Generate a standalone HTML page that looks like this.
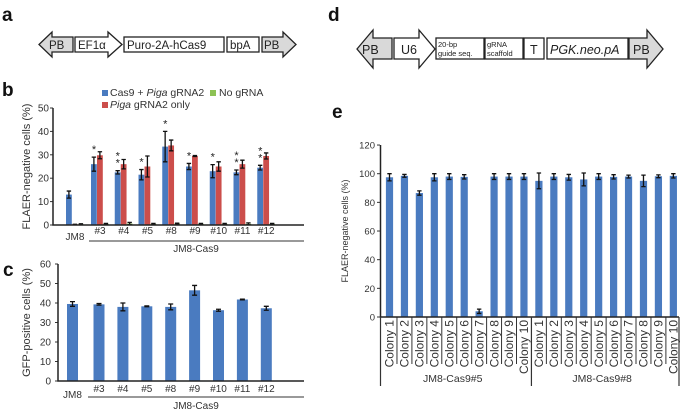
<!DOCTYPE html>
<html><head><meta charset="utf-8"><style>
body{margin:0;background:#fff;}
svg{display:block;font-family:"Liberation Sans",sans-serif;}
</style></head><body>
<svg id="fig" width="685" height="412" viewBox="0 0 685 412" xmlns="http://www.w3.org/2000/svg">
<g font-weight="bold" font-size="19" fill="#111">
<text x="2" y="21">a</text>
<text x="328" y="21">d</text>
<text x="2" y="96">b</text>
<text x="3" y="276">c</text>
<text x="332" y="118">e</text>
</g>
<g stroke="#222" stroke-width="1.3" font-size="11.5">
<polygon points="39,44.5 52,32 52,37 73,37 73,52 52,52 52,57" fill="#d9d9d9"/>
<polygon points="75,37 108,37 108,32 122,44.5 108,57 108,52 75,52" fill="#fff"/>
<rect x="124" y="37" width="100" height="15" fill="#fff"/>
<rect x="227" y="37" width="32" height="15" fill="#fff"/>
<polygon points="262,37 283,37 283,32 296,44.5 283,57 283,52 262,52" fill="#d9d9d9"/>
<g stroke="none" fill="#222">
<text x="49" y="49">PB</text><text x="78" y="49">EF1α</text><text x="127" y="49">Puro-2A-hCas9</text><text x="230" y="49">bpA</text><text x="264" y="49">PB</text>
</g></g>
<g stroke="#222" stroke-width="1.3">
<polygon points="357,49 373,30 373,38 392,38 392,59 373,59 373,68" fill="#d9d9d9"/>
<polygon points="394,38 419,38 419,30 435,49 419,68 419,59 394,59" fill="#fff"/>
<rect x="436" y="38" width="48" height="21" fill="#fff"/>
<rect x="485" y="38" width="38" height="21" fill="#fff"/>
<rect x="524" y="38" width="20" height="21" fill="#fff"/>
<rect x="547" y="38" width="81" height="21" fill="#fff"/>
<polygon points="629,38 647,38 647,30 663,49 647,68 647,59 629,59" fill="#d9d9d9"/>
<g stroke="none" fill="#222">
<text x="362" y="54" font-size="12.5">PB</text><text x="401" y="54" font-size="12.5">U6</text>
<text x="438" y="47" font-size="7.5">20-bp</text><text x="438" y="56" font-size="7.5">guide seq.</text>
<text x="487" y="47" font-size="7.5">gRNA</text><text x="487" y="56" font-size="7.5">scaffold</text>
<text x="530" y="54" font-size="12.5">T</text><text x="550" y="54" font-size="12.5" font-style="italic">PGK.neo.pA</text>
<text x="633" y="54" font-size="12.5">PB</text>
</g></g>
<g id="charts"></g>
</svg>
<script>
// ---- panel b data ----
const bCategories = ["JM8","#3","#4","#5","#8","#9","#10","#11","#12"];
const bCas9 = [13, 26, 22.5, 21.5, 33.5, 25, 23, 22.5, 24.5];
const bCas9Err = [1.5, 3, 0.7, 2.2, 6.5, 1.3, 2.8, 1, 1];
const bGrna = [0.3, 29.8, 26, 25, 34, 29.5, 25, 26, 29.5];
const bGrnaErr = [0, 1.5, 2, 4.5, 2.3, 0.2, 2, 1.7, 1.3];
const bNone = [0.3, 0.5, 0.6, 0.5, 0.6, 0.5, 0.5, 0.5, 0.5];
const bNoneErr = [0.2, 0.2, 0.5, 0.2, 0.2, 0.2, 0.2, 0.4, 0.2];
const bStars = [0, 1, 2, 1, 1, 1, 1, 2, 2];
const bTicks = [0, 10, 20, 30, 40, 50];
// ---- panel c data ----
const cCategories = ["JM8","#3","#4","#5","#8","#9","#10","#11","#12"];
const cGfp = [39.5, 39.3, 38, 38.3, 38, 46.5, 36.3, 41.8, 37.3];
const cGfpErr = [1.2, 0.4, 2, 0.2, 1.5, 2.5, 0.5, 0.2, 1];
const cTicks = [0, 10, 20, 30, 40, 50, 60];
// ---- panel e data ----
const eColonies = ["Colony 1","Colony 2","Colony 3","Colony 4","Colony 5","Colony 6","Colony 7","Colony 8","Colony 9","Colony 10","Colony 1","Colony 2","Colony 3","Colony 4","Colony 5","Colony 6","Colony 7","Colony 8","Colony 9","Colony 10"];
const eValues = [97.5, 98.5, 86.5, 97.5, 98, 97.8, 4, 98, 98, 98, 95, 98, 97.5, 96, 98, 97.8, 98, 95, 98.2, 98.5];
const eErr = [2.5, 1, 1.5, 2.5, 2, 1.5, 1.5, 2, 2, 2, 5.5, 2, 2, 4.5, 2, 1.5, 1, 4, 1, 1.5];
const eGroups = ["JM8-Cas9#5","JM8-Cas9#8"];
const eTicks = [0, 20, 40, 60, 80, 100, 120];

const NS="http://www.w3.org/2000/svg";
const root=document.getElementById('charts');
function mk(tag,attrs,parent,txt){const e=document.createElementNS(NS,tag);for(const k in attrs)e.setAttribute(k,attrs[k]);if(txt!==undefined)e.textContent=txt;(parent||root).appendChild(e);return e;}
const BLUE="#4a7bc0",RED="#cc4e4b",GREEN="#8dc255";
function errbar(g,x,y0,y1,cap){
  const e=mk('path',{d:`M${x},${y0}V${y1}M${x-cap},${y0}H${x+cap}M${x-cap},${y1}H${x+cap}`,stroke:'#111','stroke-width':1.3,fill:'none'},g);
  
  
}

// ===== Panel b =====
const bY=v=>225-v*2.34;
const bX=i=>i===0?75:100+(i-1)*23.75;
const gb=mk('g',{});


bTicks.forEach(t=>{
  const tl=mk('text',{x:49,y:bY(t)+3.5,'font-size':10,'text-anchor':'end',fill:'#333'},gb,String(t));
  
  
  mk('line',{x1:50,x2:53,y1:bY(t),y2:bY(t),stroke:'#333','stroke-width':1},gb);
});
bCategories.forEach((c,i)=>{
  const x=bX(i);
  const series=[[bCas9,bCas9Err,BLUE,-9,'bar-cas9'],[bGrna,bGrnaErr,RED,-3,'bar-grna-only'],[bNone,bNoneErr,GREEN,3,'bar-no-grna']];
  series.forEach(([vals,errs,col,off,nm])=>{
    const v=vals[i];
    const r=mk('rect',{x:x+off,y:bY(v),width:5.8,height:bY(0)-bY(v),fill:col},gb);
    
    
    errbar(gb,x+off+2.9,bY(v-errs[i]),bY(v+errs[i]),2.2);
  });
  for(let s=0;s<bStars[i];s++){
    const st=mk('text',{x:x-6,y:bY(bCas9[i]+bCas9Err[i])-4-s*7,'font-size':11,'text-anchor':'middle',fill:'#222'},gb,'*');
    
    
  }
  const lb=mk('text',{x:x,y:i===0?240:234,'font-size':10,'text-anchor':'middle',fill:'#333'},gb,c);
  
  
});
mk('path',{d:`M53,${bY(50)}V${bY(0)}H304`,stroke:'#222','stroke-width':1.5,fill:'none'},gb);
mk('line',{x1:89,x2:304,y1:241,y2:241,stroke:'#333','stroke-width':1},gb);
mk('text',{x:196,y:252,'font-size':10,'text-anchor':'middle',fill:'#333'},gb,'JM8-Cas9');
const by=mk('text',{x:0,y:0,'font-size':11,'text-anchor':'middle',fill:'#333',transform:`translate(30,${bY(25)}) rotate(-90)`},gb,'FLAER-negative cells (%)');


const lg=mk('g',{'font-size':10.5,fill:'#333'},gb);


mk('rect',{x:102,y:90,width:6,height:6,fill:BLUE},lg);
const t1=mk('text',{x:110,y:96},lg);
mk('tspan',{},t1,'Cas9 + ');mk('tspan',{'font-style':'italic'},t1,'Piga');mk('tspan',{},t1,' gRNA2');
mk('rect',{x:210,y:90,width:6,height:6,fill:GREEN},lg);
mk('text',{x:219,y:96},lg,'No gRNA');
mk('rect',{x:102,y:102,width:6,height:6,fill:RED},lg);
const t2=mk('text',{x:110,y:108},lg);
mk('tspan',{'font-style':'italic'},t2,'Piga');mk('tspan',{},t2,' gRNA2 only');

// ===== Panel c =====
const cY=v=>381-v*1.95;
const cX=i=>i===0?72.5:99+(i-1)*23.9;
const gc=mk('g',{});


cTicks.forEach(t=>{
  const tl=mk('text',{x:51,y:cY(t)+3.5,'font-size':10,'text-anchor':'end',fill:'#333'},gc,String(t));
  
  
  mk('line',{x1:55,x2:58,y1:cY(t),y2:cY(t),stroke:'#333','stroke-width':1},gc);
});
cCategories.forEach((c,i)=>{
  const x=cX(i);const v=cGfp[i];
  const r=mk('rect',{x:x-5.5,y:cY(v),width:11,height:cY(0)-cY(v),fill:BLUE},gc);
  
  
  errbar(gc,x,cY(v-cGfpErr[i]),cY(v+cGfpErr[i]),2.5);
  const lb=mk('text',{x:x,y:i===0?398:392,'font-size':10,'text-anchor':'middle',fill:'#333'},gc,c);
  
  
});
mk('path',{d:`M58,${cY(60)}V${cY(0)}H304`,stroke:'#222','stroke-width':1.5,fill:'none'},gc);
mk('line',{x1:88,x2:304,y1:397,y2:397,stroke:'#333','stroke-width':1},gc);
mk('text',{x:196,y:409,'font-size':10,'text-anchor':'middle',fill:'#333'},gc,'JM8-Cas9');
const cy=mk('text',{x:0,y:0,'font-size':11,'text-anchor':'middle',fill:'#333',transform:`translate(30,${cY(30)}) rotate(-90)`},gc,'GFP-positive cells (%)');



// ===== Panel e =====
const eY=v=>317-v*1.433;
const eX=i=>389.5+i*14.94;
const ge=mk('g',{});


eTicks.forEach(t=>{
  const tl=mk('text',{x:375,y:eY(t)+3.5,'font-size':9.5,'text-anchor':'end',fill:'#333'},ge,String(t));
  
  
  mk('line',{x1:377,x2:380,y1:eY(t),y2:eY(t),stroke:'#333','stroke-width':1},ge);
});
eColonies.forEach((c,i)=>{
  const x=eX(i);const v=eValues[i];
  const r=mk('rect',{x:x-3.6,y:eY(v),width:7.2,height:eY(0)-eY(v),fill:BLUE},ge);
  
  
  errbar(ge,x,eY(v-eErr[i]),eY(v+eErr[i]),2.2);
  const lb=mk('text',{x:0,y:0,'font-size':12,'text-anchor':'end',fill:'#333',transform:`translate(${x+4.2},320) rotate(-90)`},ge,c);
  
  
  if(i>0&&i!==10) mk('line',{x1:x-7.47,x2:x-7.47,y1:317,y2:364,stroke:'#333','stroke-width':1},ge);
});
mk('path',{d:`M380.5,${eY(120)}V${eY(0)}H679`,stroke:'#222','stroke-width':1.5,fill:'none'},ge);
[380.5, eX(10)-7.47, 679].forEach(x=>mk('line',{x1:x,x2:x,y1:317,y2:386,stroke:'#333','stroke-width':1.2},ge));
eGroups.forEach((gname,k)=>{
  const cx=(eX(k*10)+eX(k*10+9))/2;
  const gl=mk('text',{x:cx-4,y:382,'font-size':10.5,'text-anchor':'middle',fill:'#333'},ge,gname);
  
  
});
const ey=mk('text',{x:0,y:0,'font-size':9,'text-anchor':'middle',fill:'#333',transform:`translate(348,${eY(60)}) rotate(-90)`},ge,'FLAER-negative cells (%)');


</script>
</body></html>
